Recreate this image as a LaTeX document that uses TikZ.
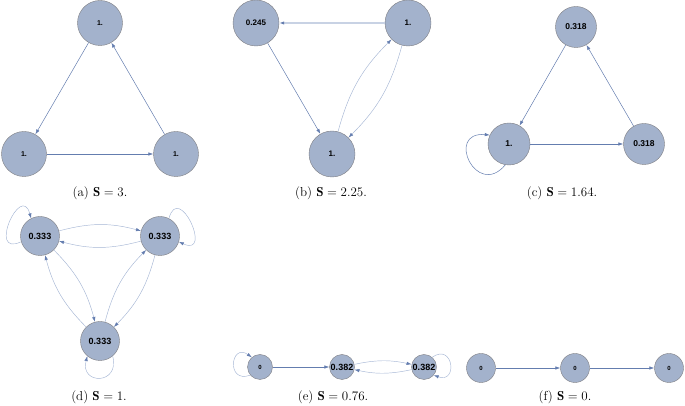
\RequirePackage{fix-cm}
\documentclass[tikz,border=0pt]{standalone}
\usepackage{fontspec}
\newfontfamily\labfont{Liberation Sans}
\usetikzlibrary{arrows.meta}
\definecolor{vfill}{RGB}{163,178,204}
\definecolor{vline}{RGB}{125,125,130}
\definecolor{ecol}{RGB}{100,125,175}
\definecolor{elight}{RGB}{165,182,212}
\definecolor{ethick}{RGB}{200,210,228}
\begin{document}
\begin{tikzpicture}[x=1pt,y=1pt,
  vtx/.style={circle,fill=vfill,draw=vline,line width=0.4pt,inner sep=0pt},
  ed/.style={draw=ecol,line width=0.5pt,-{Latex[length=5pt,width=3.4pt,color=ecol]}},
  edl/.style={ed,draw=elight,line width=0.45pt},
  captext/.style={font=\fontsize{13}{15}\selectfont}
]
\useasboundingbox (0,0) rectangle (685,406);

% (a)
\begin{scope}[every node/.append style={font=\labfont\bfseries\fontsize{7}{8}\selectfont}]
\node[vtx,minimum size=45pt] (a1) at (100,383) {1.};
\node[vtx,minimum size=45pt] (a2) at (24,252) {1.};
\node[vtx,minimum size=45pt] (a3) at (176,252) {1.};
\end{scope}
\draw[ed] (a1) -- (a2);
\draw[ed] (a2) -- (a3);
\draw[ed] (a3) -- (a1);
\node[captext] (ca) at (100,213) {(a) $\mathbf{S}=3$.};

% (b)
\begin{scope}[every node/.append style={font=\labfont\bfseries\fontsize{8}{9}\selectfont}]
\node[vtx,minimum size=46pt] (b1) at (256,383) {0.245};
\node[vtx,minimum size=46pt] (b2) at (408,383) {1.};
\node[vtx,minimum size=46pt] (b3) at (332,252) {1.};
\end{scope}
\draw[ed,draw=ethick,line width=1.3pt] (b2) -- (b1);
\draw[ed] (b1) -- (b3);
\draw[edl] (b3) to[bend left=15] (b2);
\draw[edl] (b2) to[bend left=15] (b3);
\node[captext] (cb) at (331,213) {(b) $\mathbf{S}=2.25$.};

% (c)
\begin{scope}[every node/.append style={font=\labfont\bfseries\fontsize{8.5}{9}\selectfont}]
\node[vtx,minimum size=41pt] (c1) at (576,379) {0.318};
\node[vtx,minimum size=42pt] (c2) at (509,262) {1.};
\node[vtx,minimum size=41pt] (c3) at (644,262) {0.318};
\end{scope}
\draw[ed] (c1) -- (c2);
\draw[ed] (c2) -- (c3);
\draw[ed] (c3) -- (c1);
\draw[ed] (c2.-100) .. controls +(-130:45) and +(175:45) .. (c2.155);
\node[captext] (cc) at (562,213) {(c) $\mathbf{S}=1.64$.};

% (d)
\begin{scope}[every node/.append style={font=\labfont\bfseries\fontsize{9}{10}\selectfont}]
\node[vtx,minimum size=39pt] (d1) at (40,170) {0.333};
\node[vtx,minimum size=39pt] (d2) at (160,170) {0.333};
\node[vtx,minimum size=39pt] (d3) at (100,65) {0.333};
\end{scope}
\draw[edl] (d1) to[bend left=15] (d2);
\draw[edl] (d2) to[bend left=15] (d1);
\draw[edl] (d1) to[bend left=15] (d3);
\draw[edl] (d3) to[bend left=15] (d1);
\draw[edl] (d2) to[bend left=15] (d3);
\draw[edl] (d3) to[bend left=15] (d2);
\draw[edl] (d1.197) .. controls +(205:38) and +(105:38) .. (d1.117);
\draw[edl] (d2.63) .. controls +(75:38) and +(-25:38) .. (d2.-17);
\draw[edl] (d3.-50) .. controls +(-75:30) and +(-105:30) .. (d3.-130);
\node[captext] (cd) at (99,9) {(d) $\mathbf{S}=1$.};

% (e)
\begin{scope}[every node/.append style={font=\labfont\bfseries\fontsize{9}{10}\selectfont}]
\node[vtx,minimum size=25pt,font=\labfont\bfseries\fontsize{6}{7}\selectfont] (e1) at (260,39) {0};
\node[vtx,minimum size=25pt] (e2) at (342,39) {0.382};
\node[vtx,minimum size=25pt] (e3) at (424,39) {0.382};
\end{scope}
\draw[ed] (e1) -- (e2);
\draw[edl] (e2) to[bend left=12] (e3);
\draw[edl] (e3) to[bend left=12] (e2);
\draw[edl] (e1.-140) .. controls +(-160:26) and +(145:26) .. (e1.130);
\draw[edl] (e3.50) .. controls +(35:26) and +(-20:26) .. (e3.-40);
\node[captext] (ce) at (333,9) {(e) $\mathbf{S}=0.76$.};

% (f)
\begin{scope}[every node/.append style={font=\labfont\bfseries\fontsize{6}{7}\selectfont}]
\node[vtx,minimum size=29pt] (f1) at (481,38) {0};
\node[vtx,minimum size=29pt] (f2) at (575,38) {0};
\node[vtx,minimum size=29pt] (f3) at (669,38) {0};
\end{scope}
\draw[ed] (f1) -- (f2);
\draw[ed] (f2) -- (f3);
\node[captext] (cf) at (565,9) {(f) $\mathbf{S}=0$.};
\end{tikzpicture}
\end{document}
